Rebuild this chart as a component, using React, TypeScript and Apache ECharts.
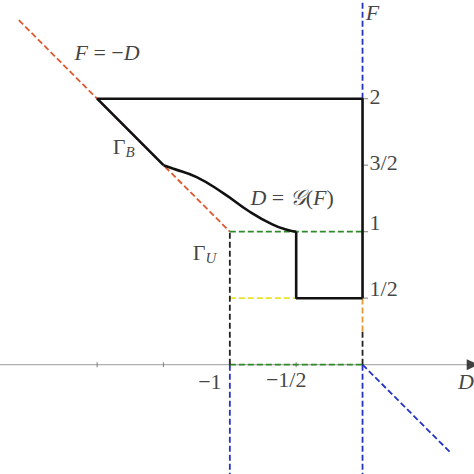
import React, { useEffect, useRef } from 'react'
import * as echarts from 'echarts'

// 坐标范围 (D 横轴, F 纵轴)
const dRange = [-2.732, 0.84]
const fRange = [-0.822, 2.742]

// 边界与曲线
const lineFeqMinusD = [[[-2.59, 2.59], [-1, 1]]]
const boundaryTop = [[0, 0.5], [0, 2], [-2, 2], [-1.5, 1.5]]
const curveG = [
    [-1.5, 1.5], [-1.43, 1.475], [-1.25, 1.41], [-1.05, 1.29],
    [-0.85, 1.15], [-0.68, 1.055], [-0.57, 1.015], [-0.5, 1],
]
const stepLine = [[-0.5, 1], [-0.5, 0.5], [0, 0.5]]

// 虚线段
const blueSegments = [
    [[0, 2], [0, 2.8]],
    [[0, 0], [0, -0.9]],
    [[-1, 0], [-1, -0.9]],
    [[0, 0], [0.668, -0.666]],
]
const greenSegments = [
    [[-1, 1], [0, 1]],
    [[-1, 0], [0, 0]],
]
const yellowSegments = [[[-1, 0.5], [-0.5, 0.5]]]
const blackDashSegments = [
    [[-1, 0], [-1, 1]],
    [[0, 0], [0, 0.25]],
]
const orangeSegments = [[[0, 0.25], [0, 0.5]]]

// 坐标轴
const axisLineD = [[-2.75, 0], [0.8, 0]]
const arrowPoint = [[0.8, 0]]
const xTicks = [-2, -1.5, -1, -0.5]
const yTicks = [0.5, 1, 1.5, 2]
const xTickLabels = ['−1', '−1/2']
const xTickLabelPos = [-1, -0.5]
const yTickLabels = ['1/2', '1', '3/2', '2']

// 注释文字
const annotations = [
    { name: '{i|F}{n| = −}{i|D}', value: [-1.925, 2.344] },
    { name: '{n|Γ}{s|B}', value: [-1.8, 1.637] },
    { name: '{i|D}{n| = }{i|𝒢}{n|(}{i|F}{n|)}', value: [-0.531, 1.254] },
    { name: '{n|Γ}{s|U}', value: [-1.19, 0.84] },
    { name: '{i|F}', value: [0.075, 2.65] },
    { name: '{i|D}', value: [0.78, -0.128] },
]

const FONT = '"Liberation Serif", "DejaVu Serif", serif'
const rich = {
    i: { fontFamily: FONT, fontStyle: 'italic' as const, fontSize: 22, color: '#111' },
    n: { fontFamily: FONT, fontSize: 22, color: '#111', whiteSpace: 'pre' },
    s: { fontFamily: FONT, fontStyle: 'italic' as const, fontSize: 15, color: '#111', padding: [10, 0, 0, 0] },
}
const xLabelOffsets = [[-20, 17], [-10, 15]]
const yLabelOffsets = [[0, -10], [0, -9], [0, -3], [0, -2]]

function dashed(segs: number[][][], color: string) {
    return segs.map(s => ({
        type: 'line',
        data: s,
        symbol: 'none',
        silent: true,
        lineStyle: { color, width: 1.8, type: [6, 3] },
        z: 2,
    }))
}

const App: React.FC = () => {
    const chartRef = useRef<HTMLDivElement | null>(null)

    useEffect(() => {
        if (!chartRef.current) return
        const chart = echarts.init(chartRef.current, undefined, { renderer: 'svg' })

        const solid = (data: number[][], smooth = false) => ({
            type: 'line',
            data,
            symbol: 'none',
            smooth: smooth ? 0.5 : false,
            lineStyle: { color: '#111', width: 2.6 },
            z: 4,
        })

        const option: any = {
            animation: false,
            backgroundColor: '#fff',
            grid: { left: 0, right: 0, top: 0, bottom: 0 },
            xAxis: { type: 'value', min: dRange[0], max: dRange[1], show: false },
            yAxis: { type: 'value', min: fRange[0], max: fRange[1], show: false },
            series: [
                {
                    type: 'line',
                    data: axisLineD,
                    symbol: 'none',
                    lineStyle: { color: '#b0b0b0', width: 1.2 },
                    z: 1,
                },
                {
                    type: 'scatter',
                    data: arrowPoint,
                    symbol: 'triangle',
                    symbolRotate: -90,
                    symbolSize: [11, 12],
                    symbolOffset: [4, 0],
                    itemStyle: { color: '#111' },
                    z: 5,
                },
                {
                    type: 'scatter',
                    data: xTicks.map(d => [d, 0]),
                    symbol: 'rect',
                    symbolSize: [1.2, 5],
                    itemStyle: { color: '#777' },
                    z: 1,
                },
                {
                    type: 'scatter',
                    data: yTicks.map(f => [0, f]),
                    symbol: 'rect',
                    symbolSize: [5, 1.2],
                    symbolOffset: [3, 0],
                    itemStyle: { color: '#777' },
                    z: 1,
                },
                ...dashed(lineFeqMinusD, '#e0582e'),
                ...dashed(blueSegments, '#2433c4'),
                ...dashed(greenSegments, '#2f8a2a'),
                ...dashed(yellowSegments, '#ece22a'),
                ...dashed(blackDashSegments, '#222'),
                ...dashed(orangeSegments, '#e69a35'),
                solid(boundaryTop),
                solid(curveG, true),
                solid(stepLine),
                {
                    type: 'scatter',
                    data: xTickLabelPos.map((d, k) => ({
                        name: xTickLabels[k],
                        value: [d, 0],
                        label: { offset: xLabelOffsets[k] },
                    })),
                    symbolSize: 0,
                    label: {
                        show: true,
                        formatter: '{b}',
                        position: 'inside',
                        fontFamily: FONT,
                        fontSize: 22,
                        color: '#111',
                    },
                    z: 6,
                },
                {
                    type: 'scatter',
                    data: yTicks.map((f, k) => ({
                        name: yTickLabels[k],
                        value: [0, f],
                        label: { offset: yLabelOffsets[k] },
                    })),
                    symbolSize: 0,
                    label: {
                        show: true,
                        formatter: '{b}',
                        position: 'right',
                        distance: 7,
                        fontFamily: FONT,
                        fontSize: 22,
                        color: '#111',
                    },
                    z: 6,
                },
                {
                    type: 'scatter',
                    data: annotations,
                    symbolSize: 0,
                    label: {
                        show: true,
                        formatter: '{b}',
                        position: 'inside',
                        rich,
                    },
                    z: 6,
                },
            ],
        }

        chart.setOption(option)
        return () => {
            chart.dispose()
        }
    }, [])

    return (
        <div
            ref={chartRef}
            style={{ position: 'fixed', left: 0, top: 0, width: 474, height: 474 }}
        />
    )
}

export default App
